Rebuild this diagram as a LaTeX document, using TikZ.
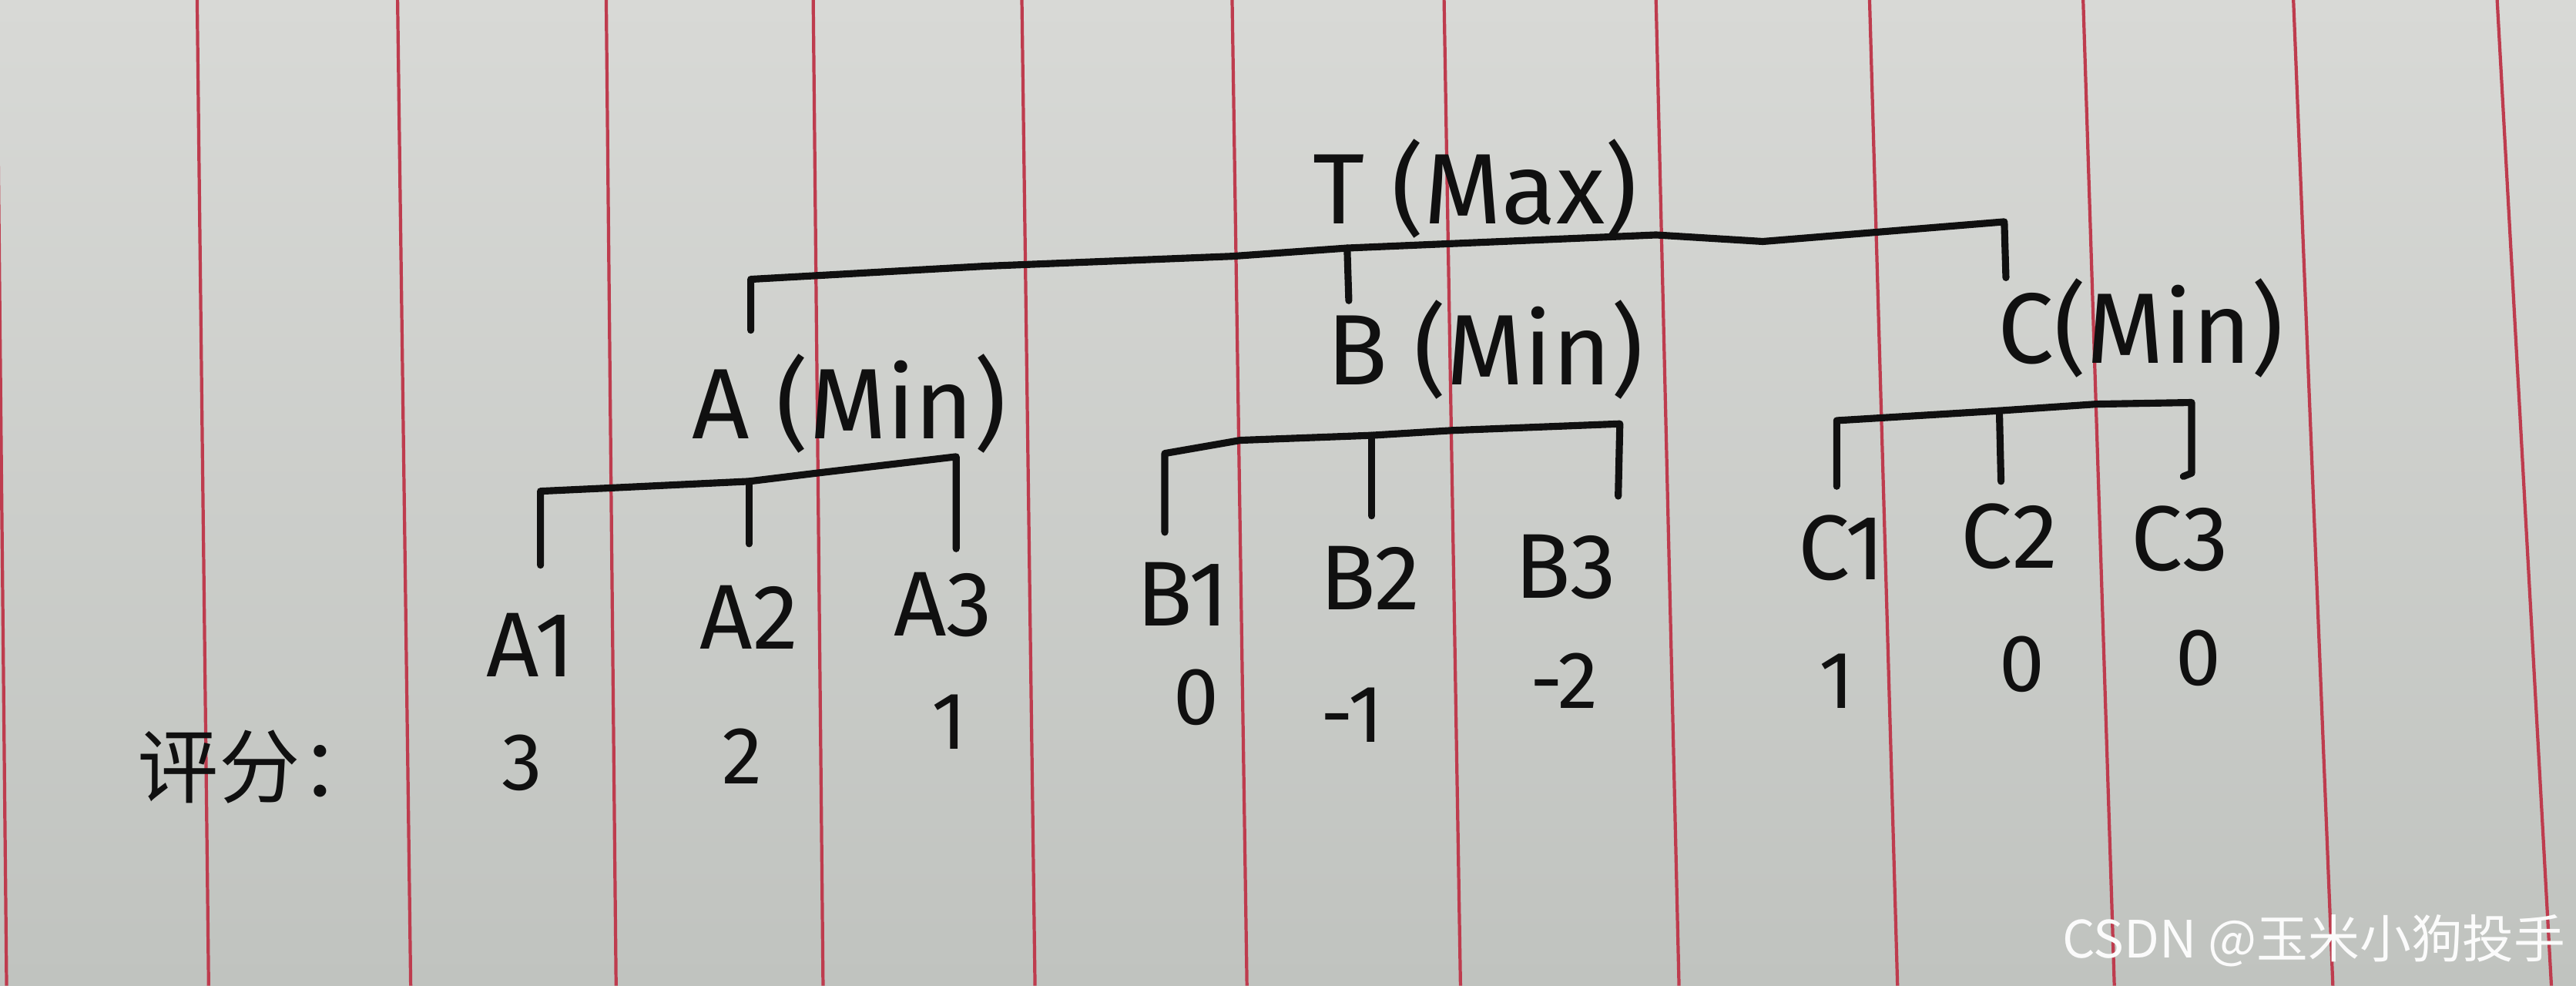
\documentclass[tikz,border=0pt]{standalone}
\usepackage{fontspec}
\newfontfamily\hand{Fira Sans}
\newfontfamily\cjk{Noto Sans CJK SC}
\definecolor{paperA}{HTML}{D8D9D6}
\definecolor{paperB}{HTML}{C0C3BF}
\definecolor{rule}{HTML}{BE3C4E}
\definecolor{ink}{HTML}{101010}
\tikzset{
  redline/.style={draw=rule,line width=1.2pt},
  inkline/.style={draw=ink,line width=2.6pt,line cap=round,line join=round},
  parent/.style={inner sep=0pt,anchor=base,text=ink,font=\hand\fontsize{37}{40}\selectfont},
  leaf/.style={inner sep=0pt,anchor=base,text=ink,font=\hand\fontsize{34}{38}\selectfont},
  score/.style={inner sep=0pt,anchor=base,text=ink,font=\hand\fontsize{30}{34}\selectfont},
  cjklab/.style={inner sep=0pt,anchor=base,text=ink,font=\cjk\fontsize{30}{34}\selectfont},
  wmark/.style={inner sep=0pt,anchor=base east,text=white!97!gray,font=\cjk\fontsize{19}{22}\selectfont}
}
\begin{document}
\begin{tikzpicture}[x=0.021327cm,y=-0.021327cm]
\useasboundingbox (0,0) rectangle (1568,600);
\shade[top color=paperA,bottom color=paperB] (0,0) rectangle (1568,600);
% ruled paper lines
\foreach \a/\b in {-2/4,120/127,242/250,369/375,495/501,622/630,750/759,879/889,1008/1022,1138/1155,1268/1287,1396/1420,1520/1553}
  \draw[redline] (\a,0) -- (\b,600);

% nodes
\node[parent] (T) at (898,136) {T (Max)};
\node[parent] (A) at (517,267) {A (Min)};
\node[parent] (B) at (904,234) {B (Min)};
\node[parent] (C) at (1303,221) {C(Min)};

\node[leaf] (A1) at (323,412) {A1};
\node[leaf] (A2) at (456,395) {A2};
\node[leaf] (A3) at (574,387) {A3};
\node[leaf] (B1) at (720,381) {B1};
\node[leaf] (B2) at (834,371) {B2};
\node[leaf] (B3) at (953,364) {B3};
\node[leaf] (C1) at (1121,353) {C1};
\node[leaf] (C2) at (1223,346) {C2};
\node[leaf] (C3) at (1327,347) {C3};

\node[cjklab] (lbl) at (158,485) {评分：};
\node[score] (vA1) at (318,481) {3};
\node[score] (vA2) at (452,477) {2};
\node[score] (vA3) at (578,456) {1};
\node[score] (vB1) at (728,441) {0};
\node[score] (vB2) at (823,452) {-1};
\node[score] (vB3) at (952,431) {-2};
\node[score] (vC1) at (1118,431) {1};
\node[score] (vC2) at (1231,421) {0};
\node[score] (vC3) at (1338,417) {0};

% top bracket (T -> A, B, C)
\coordinate (tA) at (457,201);
\coordinate (tAh) at (457,170);
\coordinate (tm1) at (600,162);
\coordinate (tm2) at (750,156);
\coordinate (tBh) at (820,151);
\coordinate (tB) at (821,183);
\coordinate (tm3) at (1008,143);
\coordinate (tm4) at (1073,147);
\coordinate (tCh) at (1220,135);
\coordinate (tC) at (1221,169);
\draw[inkline] (tA) -- (tAh) -- (tm1) -- (tm2) -- (tBh) -- (tm3) -- (tm4) -- (tCh) -- (tC);
\draw[inkline] (tBh) -- (tB);

% A bracket
\coordinate (a1) at (329,344);
\coordinate (a1h) at (329,299);
\coordinate (am1) at (372,297);
\coordinate (a2h) at (456,293);
\coordinate (a2) at (456,331);
\coordinate (am2) at (497,288);
\coordinate (a3h) at (582,278);
\coordinate (a3) at (582,334);
\draw[inkline] (a1) -- (a1h) -- (am1) -- (a2h) -- (am2) -- (a3h) -- (a3);
\draw[inkline] (a2h) -- (a2);

% B bracket
\coordinate (b1) at (709,324);
\coordinate (b1h) at (709,276);
\coordinate (bm1) at (755,268);
\coordinate (b2h) at (835,265);
\coordinate (b2) at (835,314);
\coordinate (bm2) at (884,262);
\coordinate (b3h) at (986,258);
\coordinate (b3) at (985,302);
\draw[inkline] (b1) -- (b1h) -- (bm1) -- (b2h) -- (bm2) -- (b3h) -- (b3);
\draw[inkline] (b2h) -- (b2);

% C bracket
\coordinate (c1) at (1118,296);
\coordinate (c1h) at (1118,256);
\coordinate (c2h) at (1217,250);
\coordinate (c2) at (1218,293);
\coordinate (cm1) at (1276,246);
\coordinate (c3h) at (1334,245);
\coordinate (c3) at (1334,288);
\coordinate (c3k) at (1329,290);
\draw[inkline] (c1) -- (c1h) -- (c2h) -- (cm1) -- (c3h) -- (c3) -- (c3k);
\draw[inkline] (c2h) -- (c2);

% watermark
\node[wmark] (wm) at (1562,583) {CSDN @玉米小狗投手};
\end{tikzpicture}
\end{document}
